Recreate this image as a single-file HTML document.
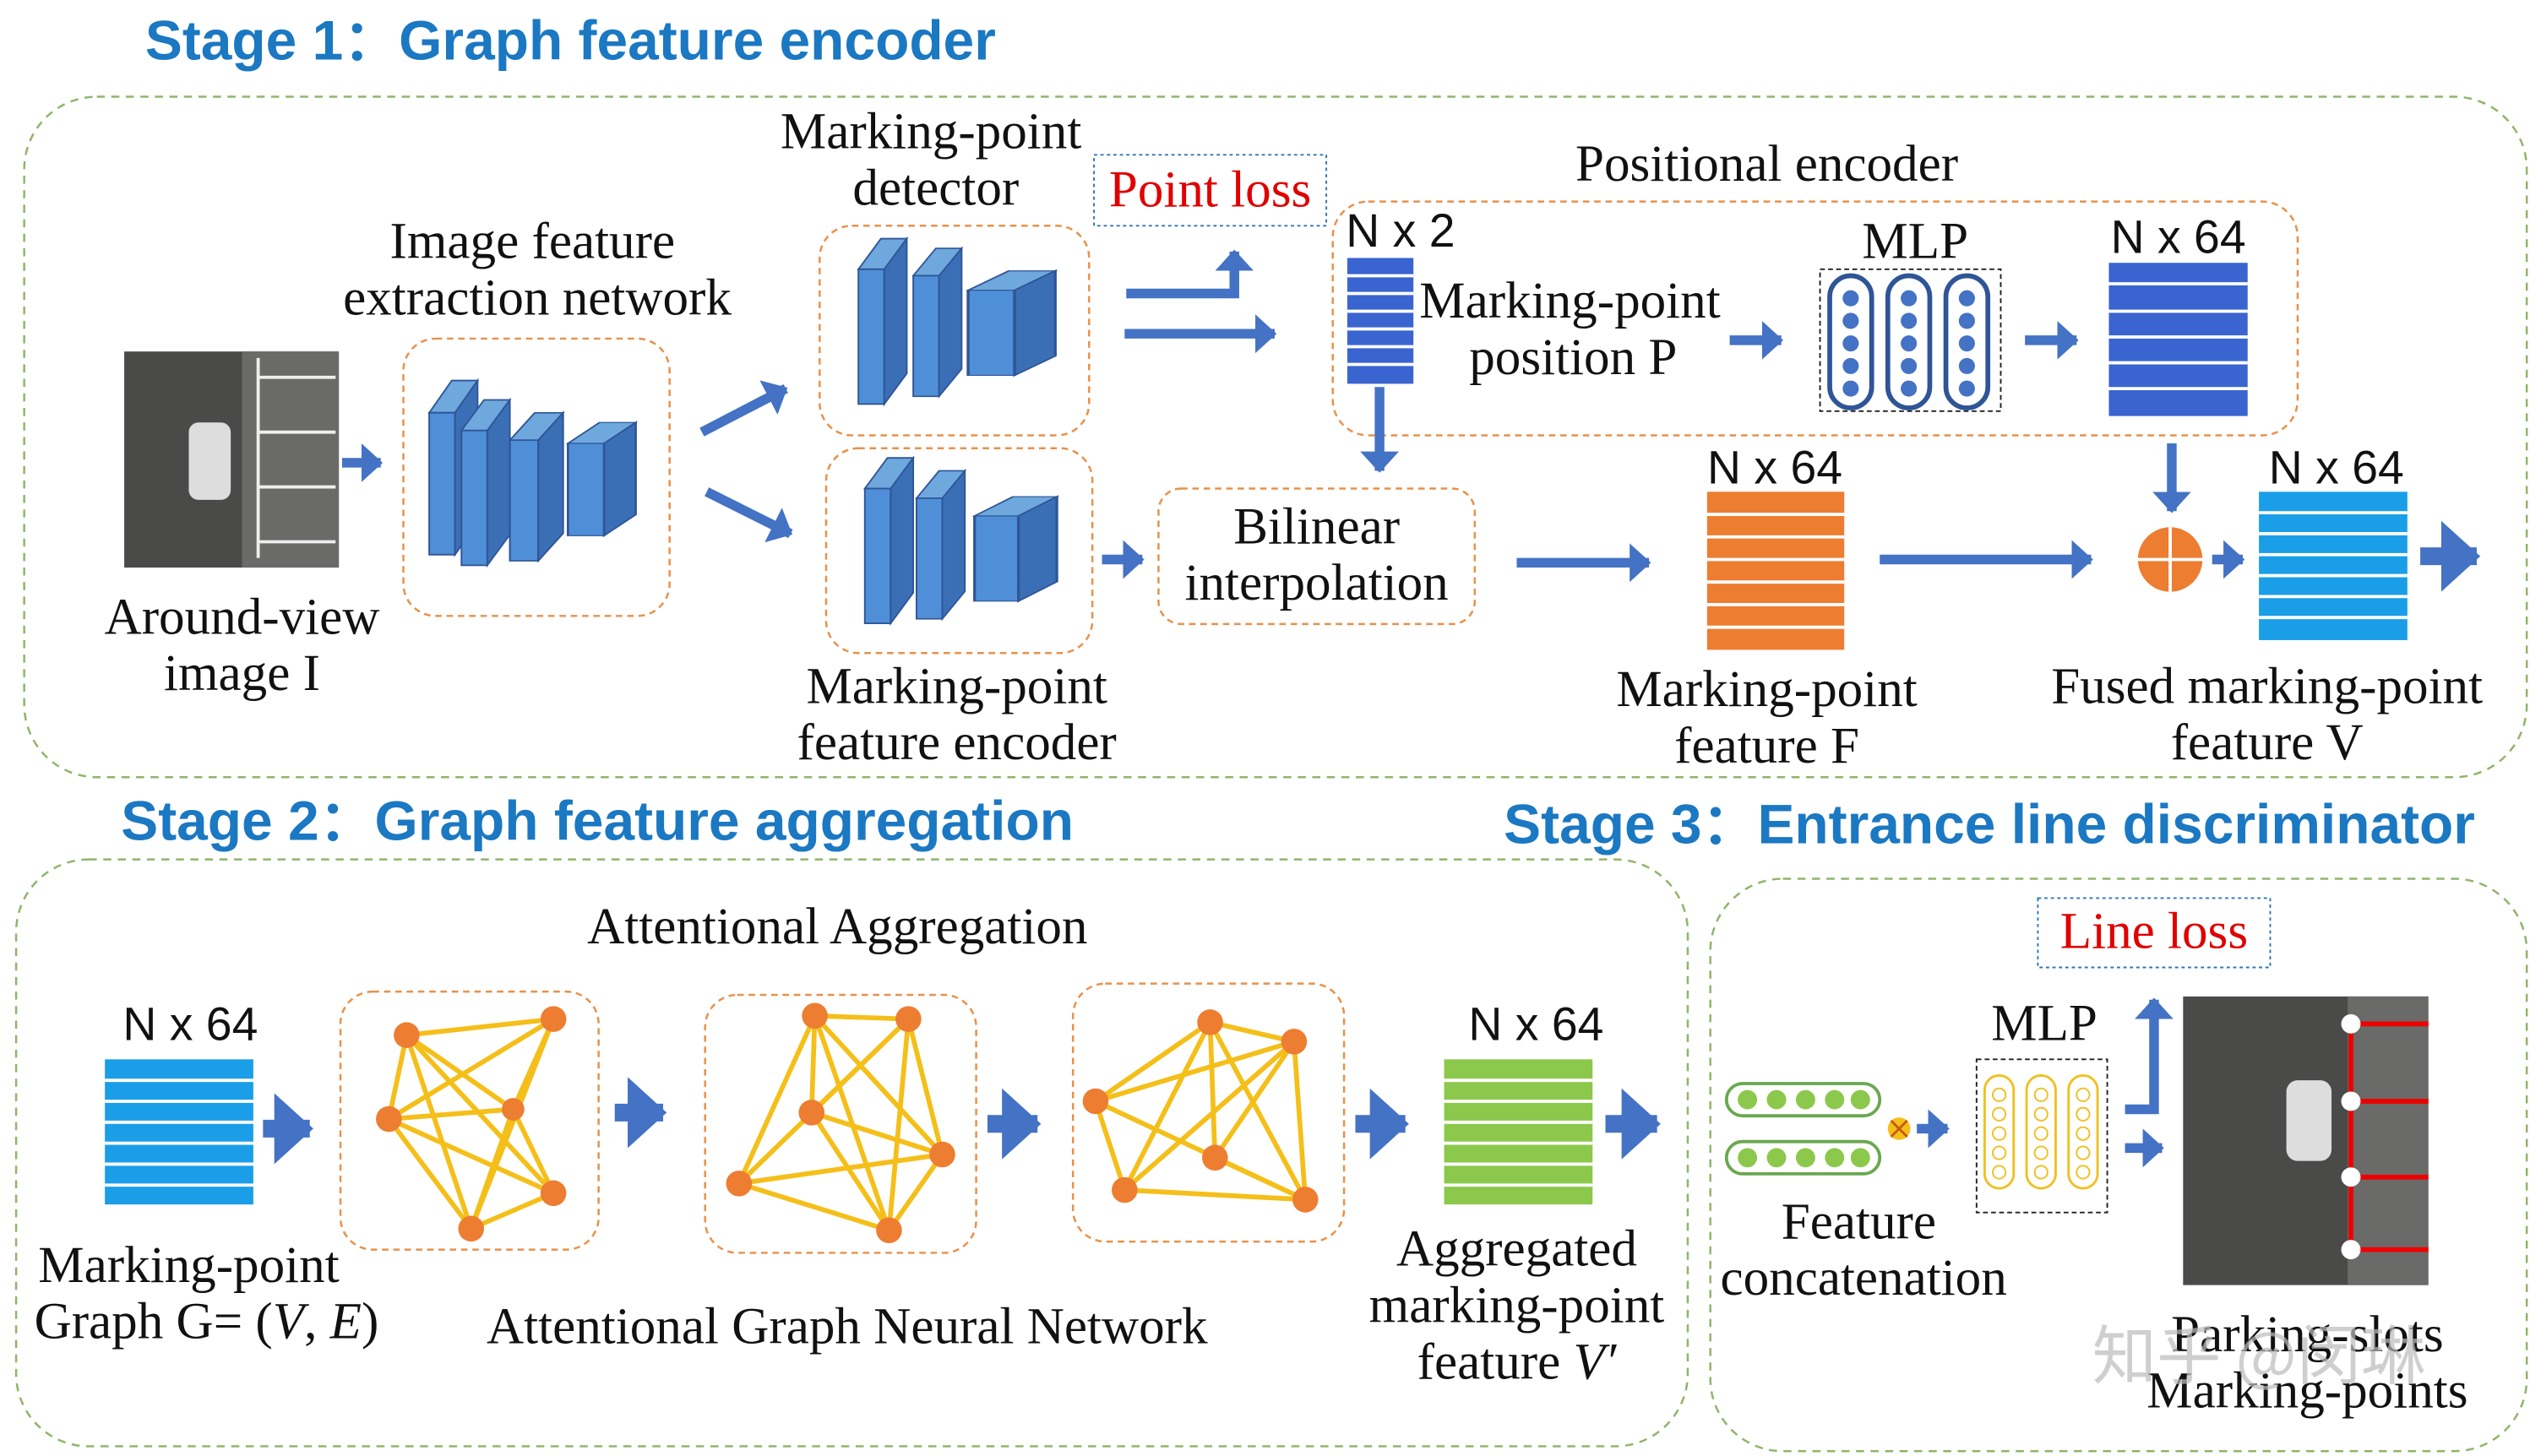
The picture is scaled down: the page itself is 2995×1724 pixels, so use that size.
<!DOCTYPE html>
<html><head><meta charset="utf-8"><style>
html,body{margin:0;padding:0;background:#fff;}
svg{display:block;}
.t{font-family:"Liberation Serif",serif;font-size:32px;fill:#111;text-anchor:middle;}
.s{font-family:"Liberation Sans","DejaVu Sans",sans-serif;font-size:34.5px;font-weight:bold;fill:#1b78c2;}
.n{font-family:"Liberation Sans",sans-serif;font-size:29px;fill:#111;text-anchor:middle;}
</style></head><body>
<svg width="2995" height="1724" viewBox="0 0 1568 903" preserveAspectRatio="none" xmlns="http://www.w3.org/2000/svg">
<defs>
<marker id="ah" markerWidth="4" markerHeight="4" refX="2" refY="2" orient="auto" markerUnits="strokeWidth"><path d="M0,0 L2.2,2 L0,4z" fill="#4472c4"/></marker>
<g id="blk">
 <path d="M0,20 L14,0 L30,0 L16,20z" fill="#6fa8dc" stroke="#2f5597"/>
 <rect x="0" y="20" width="16" height="88" fill="#4f8fd8" stroke="#2f5597"/>
 <path d="M16,20 L30,0 L30,88 L16,108z" fill="#3b6fb5" stroke="#2f5597"/>
</g>
<g id="pill"><rect x="0" y="0" width="26" height="82" rx="13" fill="#fff" stroke="#2f5597" stroke-width="3"/>
<circle cx="13" cy="14" r="5" fill="#4472c4"/><circle cx="13" cy="28" r="5" fill="#4472c4"/><circle cx="13" cy="42" r="5" fill="#4472c4"/><circle cx="13" cy="56" r="5" fill="#4472c4"/><circle cx="13" cy="70" r="5" fill="#4472c4"/></g>
<g id="ypill"><rect x="0" y="0" width="18" height="70" rx="9" fill="#fff" stroke="#f0c020" stroke-width="1.5"/>
<circle cx="9" cy="12" r="4" fill="none" stroke="#f0c020"/><circle cx="9" cy="24" r="4" fill="none" stroke="#f0c020"/><circle cx="9" cy="36" r="4" fill="none" stroke="#f0c020"/><circle cx="9" cy="48" r="4" fill="none" stroke="#f0c020"/><circle cx="9" cy="60" r="4" fill="none" stroke="#f0c020"/></g>
</defs>

<text class="s" x="90" y="37">Stage 1：Graph feature encoder</text>
<text class="s" x="75" y="521">Stage 2：Graph feature aggregation</text>
<text class="s" x="932" y="523">Stage 3：Entrance line discriminator</text>

<g fill="none" stroke="#8fb56a" stroke-width="1.3" stroke-dasharray="5,4">
<rect x="15" y="60" width="1551" height="422" rx="45"/>
<rect x="10" y="533" width="1036" height="364" rx="45"/>
<rect x="1060" y="545" width="506" height="355" rx="45"/>
</g>

<g fill="none" stroke="#e8914a" stroke-width="1.3" stroke-dasharray="4,3">
<rect x="250" y="210" width="165" height="172" rx="20"/>
<rect x="508" y="140" width="167" height="130" rx="20"/>
<rect x="512" y="278" width="165" height="127" rx="20"/>
<rect x="826" y="125" width="598" height="145" rx="22"/>
<rect x="718" y="303" width="196" height="84" rx="14"/>
<rect x="211" y="615" width="160" height="160" rx="20"/>
<rect x="437" y="617" width="168" height="160" rx="20"/>
<rect x="665" y="610" width="168" height="160" rx="20"/>
</g>
<rect x="678" y="96" width="144" height="44" fill="none" stroke="#2e75b6" stroke-dasharray="2,2"/>
<text x="750" y="128" class="t" style="fill:#e00000">Point loss</text>
<rect x="1263" y="557" width="144" height="43" fill="none" stroke="#2e75b6" stroke-dasharray="2,2"/>
<text x="1335" y="588" class="t" style="fill:#e00000">Line loss</text>

<rect x="77" y="218" width="133" height="134" fill="#4a4a48"/>
<rect x="150" y="218" width="60" height="134" fill="#6a6a68"/>
<g stroke="#eee" stroke-width="2"><line x1="160" y1="222" x2="160" y2="346"/>
<line x1="160" y1="234" x2="208" y2="234"/><line x1="160" y1="268" x2="208" y2="268"/><line x1="160" y1="302" x2="208" y2="302"/><line x1="160" y1="336" x2="208" y2="336"/></g>
<rect x="117" y="262" width="26" height="48" rx="6" fill="#ddd"/>
<text class="t" x="150" y="393">Around-view</text><text class="t" x="150" y="428">image I</text>

<g transform="translate(266,236)"><use href="#blk"/></g>
<g transform="translate(286,248)"><use href="#blk" transform="scale(1,0.95)"/></g>
<g transform="translate(316,256)"><use href="#blk" transform="scale(1.1,0.85)"/></g>
<g transform="translate(352,262)"><use href="#blk" transform="scale(1.4,0.65)"/></g>
<g transform="translate(532,148)"><use href="#blk" transform="scale(1,0.95)"/></g>
<g transform="translate(566,154)"><use href="#blk" transform="scale(1,0.85)"/></g>
<g transform="translate(600,168)"><use href="#blk" transform="scale(1.8,0.6)"/></g>
<g transform="translate(536,284)"><use href="#blk" transform="scale(1,0.95)"/></g>
<g transform="translate(568,292)"><use href="#blk" transform="scale(1,0.85)"/></g>
<g transform="translate(604,308)"><use href="#blk" transform="scale(1.7,0.6)"/></g>

<text class="t" x="330" y="160">Image feature</text><text class="t" x="333" y="195">extraction network</text>
<text class="t" x="577" y="92">Marking-point</text><text class="t" x="580" y="127">detector</text>
<text class="t" x="593" y="436">Marking-point</text><text class="t" x="593" y="471">feature  encoder</text>

<g stroke="#4472c4" stroke-width="6" fill="none" marker-end="url(#ah)">
<line x1="212" y1="287" x2="236" y2="287"/>
<line x1="435" y1="268" x2="487" y2="241"/>
<line x1="438" y1="305" x2="490" y2="331"/>
<polyline points="698,182 765,182 765,156"/>
<line x1="697" y1="207" x2="790" y2="207"/>
<line x1="855" y1="240" x2="855" y2="292"/>
<line x1="683" y1="347" x2="708" y2="347"/>
<line x1="1072" y1="211" x2="1104" y2="211"/>
<line x1="1255" y1="211" x2="1287" y2="211"/>
<line x1="940" y1="349" x2="1022" y2="349"/>
<line x1="1165" y1="347" x2="1296" y2="347"/>
<line x1="1346" y1="275" x2="1346" y2="317"/>
<line x1="1371" y1="347" x2="1390" y2="347"/>
<line x1="1188" y1="700" x2="1207" y2="700"/>
<polyline points="1317,688 1335,688 1335,620"/>
<line x1="1317" y1="712" x2="1340" y2="712"/>
</g>
<g stroke="#4472c4" stroke-width="11" fill="none" marker-end="url(#ah)">
<line x1="1500" y1="345" x2="1535" y2="345"/>
<line x1="163" y1="700" x2="192" y2="700"/>
<line x1="381" y1="690" x2="411" y2="690"/>
<line x1="612" y1="697" x2="643" y2="697"/>
<line x1="840" y1="697" x2="871" y2="697"/>
<line x1="995" y1="697" x2="1027" y2="697"/>
</g>

<text class="t" x="1095" y="112">Positional encoder</text>
<text class="n" x="868" y="153">N x 2</text>
<rect x="835" y="160" width="41" height="78" fill="#3a64d0"/>
<g stroke="#fff" stroke-width="2"><line x1="835" y1="171" x2="876" y2="171"/><line x1="835" y1="182" x2="876" y2="182"/><line x1="835" y1="193" x2="876" y2="193"/><line x1="835" y1="204" x2="876" y2="204"/><line x1="835" y1="215" x2="876" y2="215"/><line x1="835" y1="226" x2="876" y2="226"/></g>
<text class="t" x="973" y="197">Marking-point</text><text class="t" x="975" y="232">position P</text>
<text class="t" x="1187" y="160">MLP</text>
<rect x="1128" y="167" width="112" height="88" fill="none" stroke="#222" stroke-dasharray="3,2"/>
<use href="#pill" x="1134" y="171"/><use href="#pill" x="1170" y="171"/><use href="#pill" x="1206" y="171"/>
<text class="n" x="1350" y="157">N x 64</text>
<rect x="1307" y="163" width="86" height="95" fill="#3a64d0"/>
<g stroke="#fff" stroke-width="2"><line x1="1307" y1="176" x2="1393" y2="176"/><line x1="1307" y1="193" x2="1393" y2="193"/><line x1="1307" y1="209" x2="1393" y2="209"/><line x1="1307" y1="225" x2="1393" y2="225"/><line x1="1307" y1="241" x2="1393" y2="241"/></g>

<text class="t" x="816" y="337">Bilinear</text><text class="t" x="816" y="372">interpolation</text>

<text class="n" x="1100" y="300">N x 64</text>
<rect x="1058" y="305" width="85" height="98" fill="#ed7d31"/>
<g stroke="#fff" stroke-width="2"><line x1="1058" y1="319" x2="1143" y2="319"/><line x1="1058" y1="333" x2="1143" y2="333"/><line x1="1058" y1="347" x2="1143" y2="347"/><line x1="1058" y1="361" x2="1143" y2="361"/><line x1="1058" y1="375" x2="1143" y2="375"/><line x1="1058" y1="389" x2="1143" y2="389"/></g>
<text class="t" x="1095" y="438">Marking-point</text><text class="t" x="1095" y="473">feature F</text>

<circle cx="1345" cy="347" r="20" fill="#ed7d31"/>
<line x1="1325" y1="347" x2="1365" y2="347" stroke="#fff" stroke-width="2"/><line x1="1345" y1="327" x2="1345" y2="367" stroke="#fff" stroke-width="2"/>
<text class="n" x="1448" y="300">N x 64</text>
<rect x="1400" y="305" width="92" height="92" fill="#1a9ee8"/>
<g stroke="#fff" stroke-width="2"><line x1="1400" y1="318" x2="1492" y2="318"/><line x1="1400" y1="331" x2="1492" y2="331"/><line x1="1400" y1="344" x2="1492" y2="344"/><line x1="1400" y1="357" x2="1492" y2="357"/><line x1="1400" y1="370" x2="1492" y2="370"/><line x1="1400" y1="383" x2="1492" y2="383"/></g>
<text class="t" x="1405" y="436">Fused marking-point</text><text class="t" x="1405" y="471">feature V</text>

<text class="t" x="519" y="585">Attentional Aggregation</text>
<text class="n" x="118" y="645">N x 64</text>
<rect x="65" y="657" width="92" height="90" fill="#1a9ee8"/>
<g stroke="#fff" stroke-width="2"><line x1="65" y1="670" x2="157" y2="670"/><line x1="65" y1="683" x2="157" y2="683"/><line x1="65" y1="696" x2="157" y2="696"/><line x1="65" y1="709" x2="157" y2="709"/><line x1="65" y1="722" x2="157" y2="722"/><line x1="65" y1="735" x2="157" y2="735"/></g>
<text class="t" x="117" y="795">Marking-point</text><text class="t" x="128" y="830">Graph  G= (<tspan font-style="italic">V</tspan>, <tspan font-style="italic">E</tspan>)</text>

<g stroke="#f5bf1a" stroke-width="3">
<path d="M252,642 L343,632 L318,688 L292,762 L241,694 L252,642 L318,688 L343,740 L292,762 M252,642 L292,762 M252,642 L343,740 M343,632 L241,694 M343,632 L292,762 M241,694 L343,740 M241,694 L318,688" fill="none"/>
<path d="M505,630 L563,632 L584,716 L551,763 L458,734 L505,630 L503,690 L551,763 M505,630 L584,716 M563,632 L458,734 M563,632 L551,763 M503,690 L584,716 M458,734 L584,716 M505,630 L551,763 M563,632 L503,690" fill="none"/>
<path d="M750,634 L802,646 L809,744 L697,738 L679,683 L750,634 L753,718 L809,744 M679,683 L802,646 M679,683 L809,744 M750,634 L697,738 M802,646 L697,738 M750,634 L809,744 M802,646 L753,718" fill="none"/>
</g>
<g fill="#ed7d31">
<circle cx="252" cy="642" r="8"/><circle cx="343" cy="632" r="8"/><circle cx="318" cy="688" r="7"/><circle cx="241" cy="694" r="8"/><circle cx="343" cy="740" r="8"/><circle cx="292" cy="762" r="8"/>
<circle cx="505" cy="630" r="8"/><circle cx="563" cy="632" r="8"/><circle cx="503" cy="690" r="8"/><circle cx="584" cy="716" r="8"/><circle cx="551" cy="763" r="8"/><circle cx="458" cy="734" r="8"/>
<circle cx="750" cy="634" r="8"/><circle cx="802" cy="646" r="8"/><circle cx="679" cy="683" r="8"/><circle cx="753" cy="718" r="8"/><circle cx="809" cy="744" r="8"/><circle cx="697" cy="738" r="8"/>
</g>
<text class="t" x="525" y="833">Attentional Graph Neural Network</text>

<text class="n" x="952" y="645">N x 64</text>
<rect x="895" y="657" width="92" height="90" fill="#8cc84b"/>
<g stroke="#fff" stroke-width="2"><line x1="895" y1="670" x2="987" y2="670"/><line x1="895" y1="683" x2="987" y2="683"/><line x1="895" y1="696" x2="987" y2="696"/><line x1="895" y1="709" x2="987" y2="709"/><line x1="895" y1="722" x2="987" y2="722"/><line x1="895" y1="735" x2="987" y2="735"/></g>
<text class="t" x="940" y="785">Aggregated</text><text class="t" x="940" y="820">marking-point</text><text class="t" x="940" y="855">feature <tspan font-style="italic">V′</tspan></text>

<g fill="#fff" stroke="#6aa84f" stroke-width="2"><rect x="1070" y="672" width="95" height="20" rx="10"/><rect x="1070" y="708" width="95" height="20" rx="10"/></g>
<g fill="#8cc84b"><circle cx="1083" cy="682" r="6"/><circle cx="1101" cy="682" r="6"/><circle cx="1119" cy="682" r="6"/><circle cx="1137" cy="682" r="6"/><circle cx="1153" cy="682" r="6"/>
<circle cx="1083" cy="718" r="6"/><circle cx="1101" cy="718" r="6"/><circle cx="1119" cy="718" r="6"/><circle cx="1137" cy="718" r="6"/><circle cx="1153" cy="718" r="6"/></g>
<circle cx="1177" cy="700" r="7" fill="#f5bf1a"/>
<path d="M1172,695 L1182,705 M1182,695 L1172,705" stroke="#c55a11" stroke-width="1.5"/>
<text class="t" x="1267" y="645">MLP</text>
<rect x="1225" y="657" width="81" height="95" fill="none" stroke="#222" stroke-dasharray="3,2"/>
<use href="#ypill" x="1230" y="667"/><use href="#ypill" x="1256" y="667"/><use href="#ypill" x="1282" y="667"/>
<text class="t" x="1152" y="768">Feature</text><text class="t" x="1155" y="803">concatenation</text>

<rect x="1353" y="618" width="152" height="179" fill="#4a4a48"/>
<rect x="1455" y="618" width="50" height="179" fill="#6a6a68"/>
<g stroke="#e00" stroke-width="3"><line x1="1457" y1="635" x2="1457" y2="775"/><line x1="1457" y1="635" x2="1505" y2="635"/><line x1="1457" y1="683" x2="1505" y2="683"/><line x1="1457" y1="730" x2="1505" y2="730"/><line x1="1457" y1="775" x2="1505" y2="775"/></g>
<g fill="#fff"><circle cx="1457" cy="635" r="6"/><circle cx="1457" cy="683" r="6"/><circle cx="1457" cy="730" r="6"/><circle cx="1457" cy="775" r="6"/></g>
<rect x="1417" y="670" width="28" height="50" rx="7" fill="#ddd"/>
<text class="t" x="1430" y="838">Parking-slots</text><text class="t" x="1430" y="873">Marking-points</text>
<text x="1400" y="855" style="font-family:'Noto Sans CJK SC',sans-serif;font-size:40px;fill:#bbb;opacity:0.7;text-anchor:middle">知乎 @闵琳</text>
</svg>
</body></html>
